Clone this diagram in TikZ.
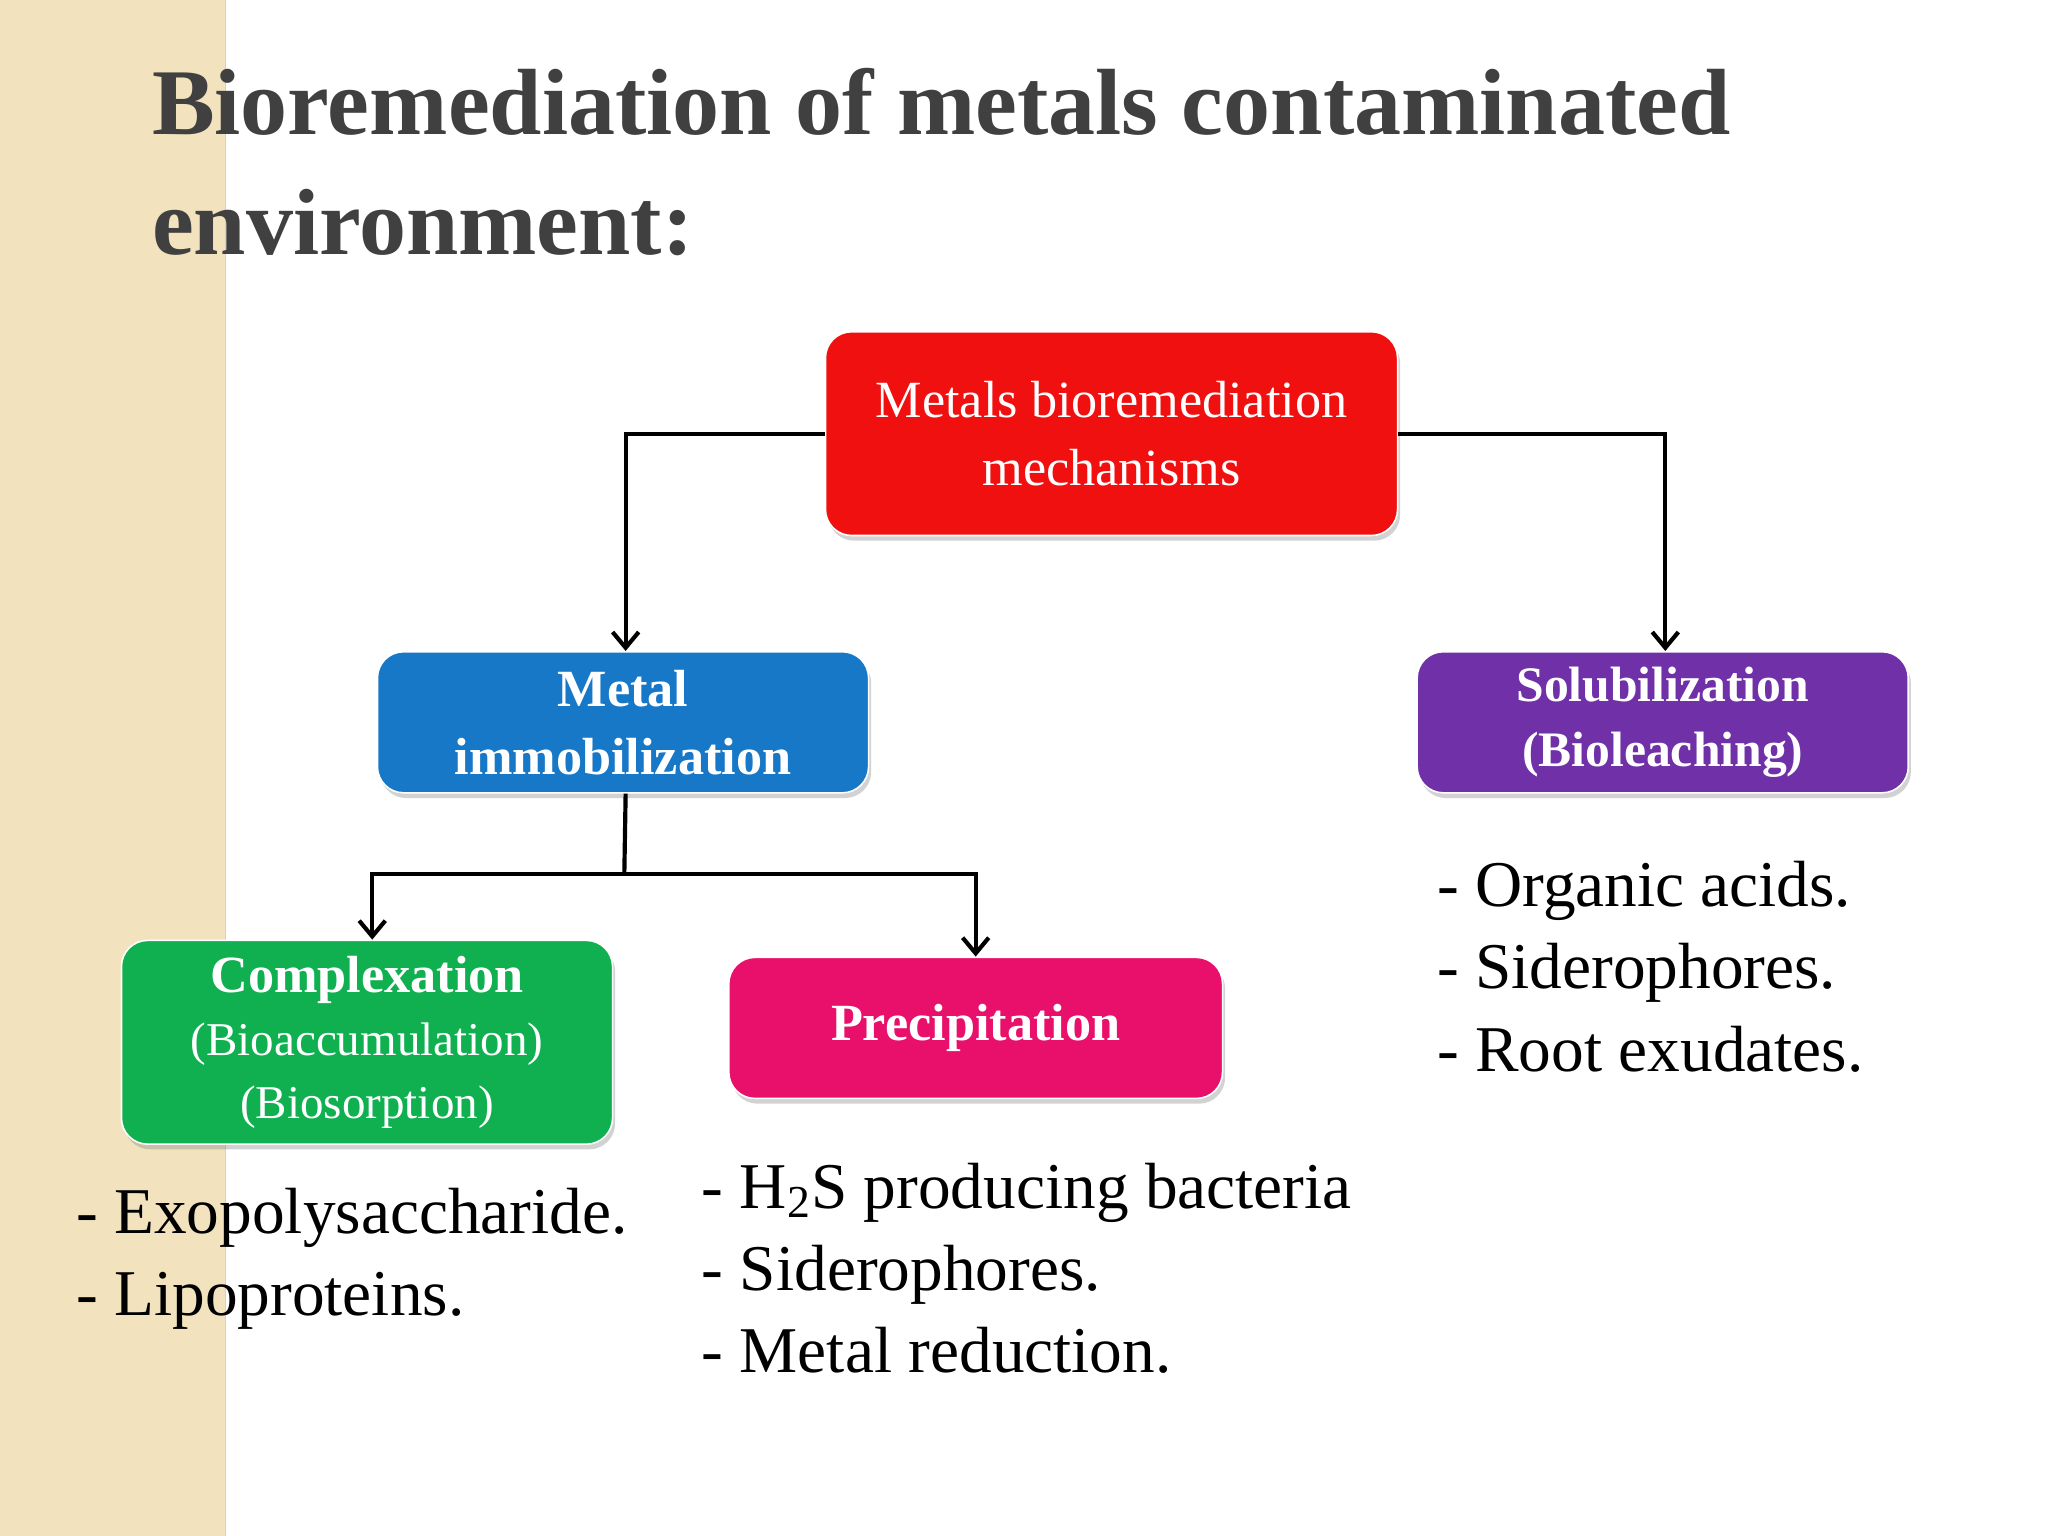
\documentclass[tikz,border=0pt]{standalone}
\usepackage{fontspec}
\setmainfont{Liberation Serif}
\usetikzlibrary{shadows,arrows.meta,patterns}
\definecolor{titlegray}{HTML}{404040}
\definecolor{bred}{HTML}{F01010}
\definecolor{bblue}{HTML}{1878C8}
\definecolor{bpurple}{HTML}{7030A8}
\definecolor{bgreen}{HTML}{10B050}
\definecolor{bpink}{HTML}{E8106A}
\definecolor{stripe}{HTML}{F2E2BE}
\tikzset{
 mbox/.style={rounded corners=10pt,draw=white,line width=0.6pt,text=white,align=center,drop shadow={opacity=0.35,shadow xshift=1pt,shadow yshift=-2pt},inner sep=0pt},
 conn/.style={line width=1.6pt,-{Straight Barb[length=6pt,width=10pt]}},
 lst/.style={anchor=west,align=left,font=\fontsize{25}{31.5}\selectfont,inner sep=0pt}
}
\begin{document}
\begin{tikzpicture}[x=0.5pt,y=-0.5pt]
\useasboundingbox (0,0) rectangle (1568,1176);
\fill[white] (0,0) rectangle (1568,1176);
\fill[stripe] (0,0) rectangle (173,1176);
\draw[stripe!80!brown,line width=0.4pt] (173,0)--(173,1176);
\node[anchor=west,inner sep=0pt,text=titlegray,font=\fontsize{36}{46}\bfseries\selectfont,align=left] (title) at (116,124) {Bioremediation of metals contaminated\\environment:};
\node[mbox,fill=bred,minimum width=219pt,minimum height=78pt,font=\fontsize{20}{26}\selectfont] (top) at (851,332) {Metals bioremediation\\mechanisms};
\node[mbox,fill=bblue,minimum width=188pt,minimum height=54pt,font=\fontsize{20}{26}\bfseries\selectfont] (imm) at (477,553) {Metal\\immobilization};
\node[mbox,fill=bpurple,minimum width=188pt,minimum height=54pt,font=\fontsize{19}{25}\bfseries\selectfont] (sol) at (1273,553) {Solubilization\\(Bioleaching)};
\node[mbox,fill=bgreen,minimum width=188pt,minimum height=78pt,font=\fontsize{18}{24}\selectfont] (comp) at (281,798) {\fontsize{20}{24}\bfseries\selectfont Complexation\\(Bioaccumulation)\\(Biosorption)};
\node[mbox,fill=bpink,minimum width=189pt,minimum height=54pt,font=\fontsize{20}{26}\bfseries\selectfont] (prec) at (747,787) {Precipitation};
\coordinate (j) at (478,669);
\draw[conn] (top.west) -| ([xshift=1pt]imm.north);
\draw[conn] (top.east) -| ([xshift=1pt]sol.north);
\draw[line width=1.6pt] ([xshift=1pt]imm.south) -- (j);
\draw[conn] (j) -| ([xshift=2pt]comp.north);
\draw[conn] (j) -| (prec.north);
\node[lst] (l1) at (1100,740) {- Organic acids.\\- Siderophores.\\- Root exudates.};
\node[lst] (l2) at (58,964) {- Exopolysaccharide.\\- Lipoproteins.};
\node[lst] (l3) at (537,971) {- H\textsubscript{2}S producing bacteria\\- Siderophores.\\- Metal reduction.};
\end{tikzpicture}
\end{document}
